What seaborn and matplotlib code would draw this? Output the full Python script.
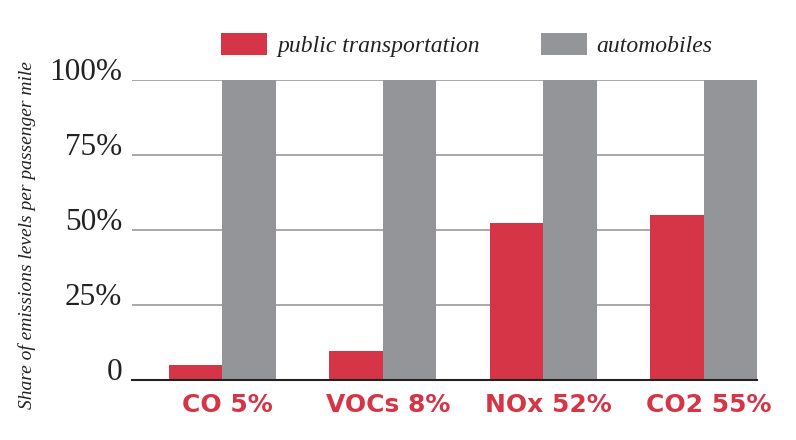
import matplotlib
matplotlib.use("Agg")
import matplotlib.pyplot as plt
import matplotlib.transforms as mtransforms
import seaborn as sns
import pandas as pd
from matplotlib.ticker import FixedLocator

categories = ["CO 5%", "VOCs 8%", "NOx 52%", "CO2 55%"]
series = ["public transportation", "automobiles"]
public_vals = [5, 9.7, 52.5, 55]
auto_vals = [100, 100, 100, 100]
ytick_vals = [0, 25, 50, 75, 100]
ytick_labels = ["0", "25%", "50%", "75%", "100%"]
ylabel = "Share of emissions levels per passenger mile"

red = "#D63447"
gray = "#949599"

df = pd.DataFrame({
    "category": categories * 2,
    "series": [series[0]] * 4 + [series[1]] * 4,
    "value": public_vals + auto_vals,
})

sns.set_theme(style="white")
plt.rcParams["font.family"] = ["Liberation Serif", "DejaVu Serif"]

fig = plt.figure(figsize=(7.96, 4.40), dpi=100)
ax = fig.add_axes([132/796, 1-380/440, (757-132)/796, 300/440])

sns.barplot(data=df, x="category", y="value", hue="series", order=categories,
            hue_order=series, palette=[red, gray], width=0.667, gap=0,
            saturation=1, ax=ax, zorder=3, linewidth=0)

ax.set_xlim(-0.5625, 3.333)
ax.set_ylim(0, 100)
ax.yaxis.set_major_locator(FixedLocator(ytick_vals))
ax.set_yticklabels(ytick_labels)
for t in ax.get_yticklabels():
    t.set_fontsize(22.5)
    t.set_verticalalignment("baseline")
    t.set_color("#222222")
ax.tick_params(axis="y", length=0, pad=7)
ax.tick_params(axis="x", length=0, pad=9)
offset = mtransforms.ScaledTranslation(5/100, 0, fig.dpi_scale_trans)
for t in ax.get_xticklabels():
    t.set_fontfamily("DejaVu Sans")
    t.set_fontweight("bold")
    t.set_fontsize(18)
    t.set_color(red)
    t.set_transform(t.get_transform() + offset)

for y in ytick_vals[1:]:
    ax.axhline(y, color="#9a9a9a", linewidth=1.2, zorder=1)

for s in ["top", "right", "left"]:
    ax.spines[s].set_visible(False)
ax.spines["bottom"].set_color("#222222")
ax.spines["bottom"].set_linewidth(1.5)
ax.spines["bottom"].set_zorder(4)

ax.set_xlabel("")
ax.set_ylabel("")
fig.text(27/796, 1-235/440, ylabel, rotation=90, ha="center", va="center",
         fontsize=14, style="italic", color="#222222")

handles, labels = ax.get_legend_handles_labels()
ax.get_legend().remove()
leg = fig.legend(handles, labels, loc="center left", bbox_to_anchor=(212/796, 1-45/440),
                 ncol=2, frameon=False, handlelength=1.95, handleheight=1.1,
                 handletextpad=0.4, columnspacing=2.6, borderaxespad=0,
                 prop={"family": "Liberation Serif", "style": "italic", "size": 17})
for t in leg.get_texts():
    t.set_color("#222222")

fig.savefig("out.png", dpi=100)
